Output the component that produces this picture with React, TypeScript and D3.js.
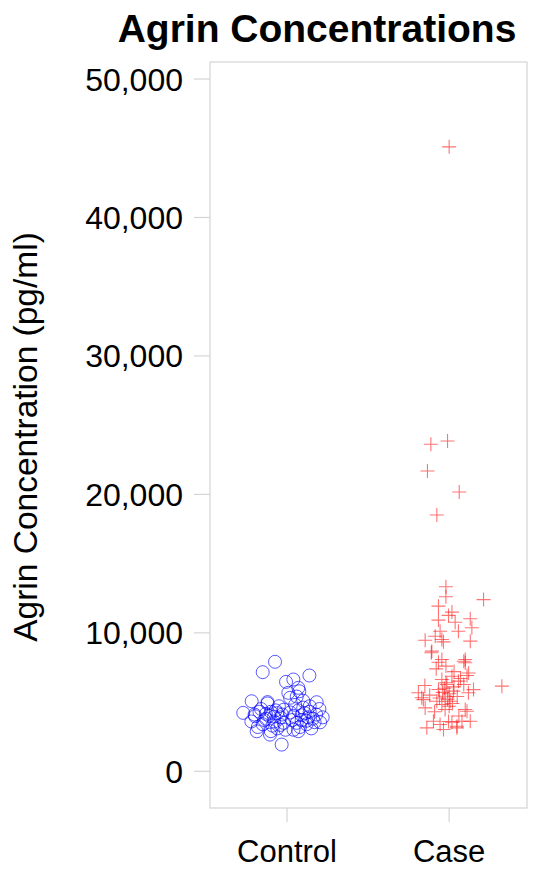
import React from "react";
import * as d3 from "d3";

const title = "Agrin Concentrations";
const yLabel = "Agrin Concentration (pg/ml)";
const categories = ["Control", "Case"];
const yTicks = [0, 10000, 20000, 30000, 40000, 50000];

// [jitter (category units), value pg/ml]
const controlPoints: [number, number][] = [
  [-0.074, 7910], [-0.15, 7160], [0.138, 6920], [0.039, 6630], [-0.006, 6460],
  [0.07, 6030], [0.076, 5780], [0.008, 5670], [0.019, 5310], [0.183, 4990],
  [-0.218, 5060], [-0.27, 4220], [-0.198, 3980], [0.204, 3540], [-0.187, 2890],
  [-0.105, 2650], [-0.033, 1930],
  [-0.2, 4100], [-0.16, 4500], [-0.13, 3800], [-0.1, 4300], [-0.08, 3600],
  [-0.12, 4900], [-0.06, 4200], [-0.04, 3900], [-0.09, 3300], [-0.15, 3400],
  [-0.05, 4700], [-0.02, 3500], [-0.11, 4000], [-0.07, 4400], [-0.14, 3700],
  [-0.18, 3200], [-0.03, 4100], [-0.01, 3000], [-0.1, 2900], [-0.06, 3100],
  [-0.17, 4300], [-0.12, 5000], [-0.08, 3950], [-0.02, 4450], [-0.13, 4150],
  [-0.04, 3350], [-0.22, 3600],
  [0.04, 4000], [0.07, 4400], [0.09, 3700], [0.11, 4200], [0.13, 3900],
  [0.06, 3500], [0.1, 4600], [0.14, 4300], [0.16, 3800], [0.08, 3200],
  [0.12, 3400], [0.05, 4800], [0.18, 4100], [0.03, 3700], [0.15, 3100],
  [0.2, 4500], [0.09, 4050], [0.12, 3650], [0.02, 4250], [0.17, 3550],
  [0.07, 2900], [0.22, 3900], [0.1, 5100], [0.06, 5400], [0.04, 3000],
  [0.14, 4700],
];

const casePoints: [number, number][] = [
  [0, 45100], [-0.113, 23620], [-0.01, 23860], [-0.134, 21690], [0.062, 20170],
  [-0.076, 18510], [-0.02, 13330], [-0.02, 12610], [0.212, 12400], [-0.066, 11930],
  [0.017, 11500], [-0.004, 11260], [0.13, 11020], [-0.066, 10920], [0.037, 10770],
  [0.14, 10370], [0.057, 10120], [-0.056, 10120], [-0.086, 9760], [-0.045, 9520],
  [-0.148, 9470], [0.13, 9400], [-0.035, 9350], [-0.107, 8680], [-0.11, 8560],
  [0.099, 8080], [-0.045, 8080], [-0.066, 7880], [0.09, 7950], [0.325, 6150],
  [-0.15, 6200], [0.099, 7840], [-0.19, 5670], [-0.159, 5180], [-0.148, 4580],
  [0.099, 4460],
  [0.017, 6870], [0.11, 6920], [-0.045, 6630], [0.057, 6510], [-0.014, 6270],
  [0.09, 6270], [-0.066, 5910], [0.026, 5790], [0.119, 5670], [-0.025, 5420],
  [-0.169, 5310], [-0.076, 5060], [0.006, 5060], [-0.045, 4820], [-0.025, 4460],
  [0.11, 4340], [-0.097, 3620], [-0.056, 3380], [0.017, 3540], [0.079, 3620],
  [0.13, 3620], [0.048, 3140], [-0.138, 3140], [-0.035, 3020], [-0.004, 3600],
  [0.048, 3250],
  [-0.03, 6000], [0.0, 5600], [-0.01, 5200], [0.03, 6100], [-0.04, 5700],
  [0.02, 4900], [-0.02, 6400], [0.05, 5400], [0.0, 4700], [-0.06, 5300],
  [0.07, 6700], [0.03, 7200], [-0.08, 7400], [0.12, 7100], [-0.12, 5500],
  [0.15, 5900], [-0.02, 7600], [0.06, 4000], [-0.09, 4300],
];

const W = 550;
const H = 882;
const frame = { left: 210, right: 527, top: 62, bottom: 808 };
const font = "'Liberation Sans', Arial, Helvetica, sans-serif";

export default function App() {
  const x = d3.scaleLinear().domain([-0.475, 1.48]).range([frame.left, frame.right]);
  const y = d3
    .scaleLinear()
    .domain([-2650, 51230])
    .range([frame.bottom, frame.top]);
  const fmt = d3.format(",");
  const gray = "#d4d4d4";
  const arm = 7;

  return (
    <svg
      width={W}
      height={H}
      style={{ position: "absolute", left: 0, top: 0, background: "#fff" }}
      fontFamily={font}
    >
      <rect x={0} y={0} width={W} height={H} fill="#fff" />
      <text x={317} y={42} textAnchor="middle" fontSize={39} fontWeight="bold" fill="#000">
        {title}
      </text>
      <rect
        x={frame.left}
        y={frame.top}
        width={frame.right - frame.left}
        height={frame.bottom - frame.top}
        fill="none"
        stroke={gray}
        strokeWidth={1.2}
      />
      {yTicks.map((t) => (
        <g key={t}>
          <line x1={194} x2={frame.left} y1={y(t)} y2={y(t)} stroke={gray} strokeWidth={1.2} />
          <text x={183} y={y(t)} dy="0.36em" textAnchor="end" fontSize={32} fill="#000">
            {fmt(t)}
          </text>
        </g>
      ))}
      {categories.map((c, i) => (
        <g key={c}>
          <line x1={x(i)} x2={x(i)} y1={frame.bottom} y2={822} stroke={gray} strokeWidth={1.2} />
          <text x={x(i)} y={862} textAnchor="middle" fontSize={31} fill="#000">
            {c}
          </text>
        </g>
      ))}
      <text
        transform={`translate(37, ${(frame.top + frame.bottom) / 2 + 2}) rotate(-90)`}
        textAnchor="middle"
        fontSize={33.5}
        fill="#000"
      >
        {yLabel}
      </text>
      <g>
        {controlPoints.map(([j, v], k) => (
          <circle
            key={k}
            cx={x(0 + j)}
            cy={y(v)}
            r={6.5}
            fill="none"
            stroke="#0000ff"
            strokeOpacity={0.65}
            strokeWidth={1}
          />
        ))}
      </g>
      <g>
        {casePoints.map(([j, v], k) => {
          const cx = x(1 + j);
          const cy = y(v);
          return (
            <path
              key={k}
              d={`M${cx - arm},${cy}H${cx + arm}M${cx},${cy - arm}V${cy + arm}`}
              stroke="#ff0000"
              strokeOpacity={0.55}
              strokeWidth={1.1}
              fill="none"
            />
          );
        })}
      </g>
    </svg>
  );
}
